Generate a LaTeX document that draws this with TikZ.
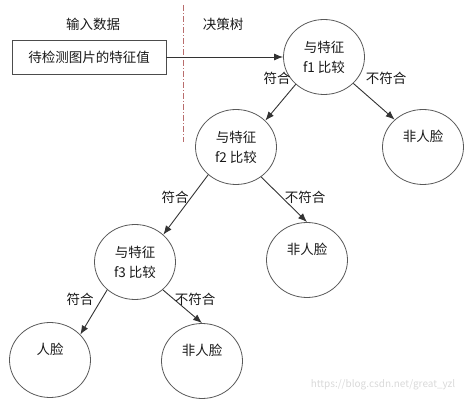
\documentclass[tikz,border=0pt]{standalone}
\usepackage{fontspec}
\setmainfont{Noto Sans CJK SC}
\usetikzlibrary{shapes.geometric,arrows.meta}

\begin{document}
\begin{tikzpicture}[x=1pt,y=-1pt,
    font=\fontsize{13.5}{20}\selectfont,
    test/.style={shape=ellipse,draw=black!65,line width=0.8,minimum width=81pt,minimum height=75pt,inner sep=0pt,align=center,text=black!90},
    leaf/.style={test,text depth=22pt},
    link/.style={draw=black!80,line width=0.9,-{Latex[length=9pt,width=7pt]}},
    tag/.style={text=black!90,inner sep=0pt}]
    \useasboundingbox (0,0) rectangle (474,403);

    \node[tag] (hin) at (93,24) {输入数据};
    \node[tag] (htree) at (223,24) {决策树};
    \draw[dash pattern=on 6pt off 2pt on 1pt off 2pt, red!35!gray!85, line width=0.8] (183,5) -- (183,142);

    \node[draw=black!70,line width=0.8,minimum width=154pt,minimum height=34pt,inner sep=0pt,text=black!90] (feat) at (89,57) {待检测图片的特征值};

    \node[test] (f1) at (324,57) {与特征\\f1 比较};
    \node[leaf] (n1) at (423,147) {非人脸};
    \node[test] (f2) at (236,147) {与特征\\f2 比较};
    \node[leaf] (n2) at (307,260) {非人脸};
    \node[test] (f3) at (135,262) {与特征\\f3 比较};
    \node[leaf] (face) at (50,360) {人脸};
    \node[leaf] (n3) at (202,361) {非人脸};

    \node[tag] (y1) at (277,78) {符合};
    \node[tag] (no1) at (386,78) {不符合};
    \node[tag] (y2) at (175,197) {符合};
    \node[tag] (no2) at (305,197) {不符合};
    \node[tag] (y3) at (80,299) {符合};
    \node[tag] (no3) at (195,299) {不符合};

    \draw[link] (feat) -- (f1);
    \draw[link] (f1.-136) -- (f2.42);
    \draw[link] (f1.-42) -- (n1.136);
    \draw[link] (f2.-135) -- (f3.44);
    \draw[link] (f2.-50) -- (n2.north);
    \draw[link] (f3.-135) -- (face.40);
    \draw[link] (f3.-45) -- (n3.north);

    \node[text=black!15,font=\fontsize{10}{12}\selectfont] (mark) at (383,385) {https://blog.csdn.net/great\_yzl};
\end{tikzpicture}
\end{document}
